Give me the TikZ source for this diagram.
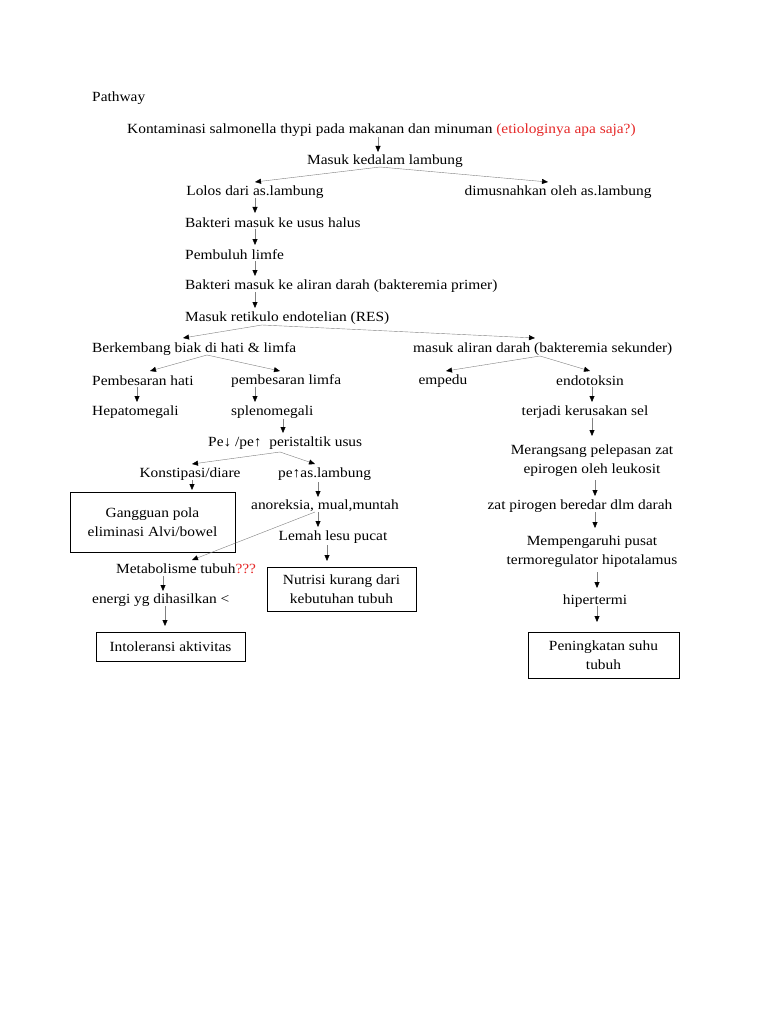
\documentclass[tikz,border=0pt]{standalone}
\usepackage{fontspec}
\setmainfont{Liberation Serif}[FakeStretch=1.1]
\usetikzlibrary{arrows.meta}
\definecolor{redq}{RGB}{230,40,40}
\begin{document}
\begin{tikzpicture}[x=1pt,y=-1pt,
  every node/.style={font=\fontsize{14}{19}\selectfont, inner sep=1pt, yshift=-2pt},
  l/.style={anchor=west},
  box/.style={draw, thick, align=center, minimum width=#1, inner sep=3pt},
  ar/.style={draw=gray, line width=0.4pt, -{Triangle[length=6pt,width=5pt,color=black]}}]
\useasboundingbox (0,0) rectangle (768,1024);
\fill[white] (0,0) rectangle (768,1024);
\node[l] (pw) at (91,96) {Pathway};
\node[l] (k) at (126,128) {Kontaminasi salmonella thypi pada makanan dan minuman \textcolor{redq}{(etiologinya apa saja?)}};
\node (ml) at (385,159) {Masuk kedalam lambung};
\node (lo) at (255,190) {Lolos dari as.lambung};
\node (di) at (558,190) {dimusnahkan oleh as.lambung};
\node[l] (bu) at (184,221) {Bakteri masuk ke usus halus};
\node[l] (pl) at (184,253) {Pembuluh limfe};
\node[l] (ba) at (184,284) {Bakteri masuk ke aliran darah (bakteremia primer)};
\node[l] (res) at (184,316) {Masuk retikulo endotelian (RES)};
\node[l] (bb) at (91,347) {Berkembang biak di hati \& limfa};
\node[l] (ma) at (412,347) {masuk aliran darah (bakteremia sekunder)};
\node[l] (ph) at (91,379) {Pembesaran hati};
\node[l] (pli) at (230,379) {pembesaran limfa};
\node[l] (he) at (91,410) {Hepatomegali};
\node[l] (sp) at (230,410) {splenomegali};
\node[l] (pe) at (207,441) {Pe↓ /pe↑\ \ peristaltik usus};
\node (em) at (443,379) {empedu};
\node (en) at (590,379) {endotoksin};
\node (tk) at (585,410) {terjadi kerusakan sel};
\node[align=center] (me) at (592,459) {Merangsang pelepasan zat\\epirogen oleh leukosit};
\node (zp) at (580,504) {zat pirogen beredar dlm darah};
\node[align=center] (mp) at (592,550) {Mempengaruhi pusat\\termoregulator hipotalamus};
\node (hi) at (595,599) {hipertermi};
\node[box=151pt, minimum height=46pt] (ps) at (603.5,653) {Peningkatan suhu\\tubuh};
\node (kd) at (190,472) {Konstipasi/diare};
\node[l] (pa) at (277,472) {pe↑as.lambung};
\node[box=165pt, minimum height=60pt] (gp) at (152.5,520) {Gangguan pola\\eliminasi Alvi/bowel};
\node[l] (an) at (250,504) {anoreksia, mual,muntah};
\node (le) at (333,535) {Lemah lesu pucat};
\node[l] (mt) at (115,567) {Metabolisme tubuh\textcolor{redq}{???}};
\node[box=149pt, minimum height=44pt] (nk) at (341.5,587) {Nutrisi kurang dari\\kebutuhan tubuh};
\node[l] (eg) at (91,598) {energi yg dihasilkan <};
\node[box=149pt, minimum height=29pt] (ia) at (170.5,644.5) {Intoleransi aktivitas};
% arrows
\draw[ar] (378,137) -- (378,152);
\draw[ar] (380,167) -- (255,182);
\draw[ar] (380,167) -- (548,182);
\draw[ar] (255,198) -- (255,213);
\draw[ar] (255,229) -- (255,245);
\draw[ar] (255,261) -- (255,276);
\draw[ar] (255,292) -- (255,308);
\draw[ar] (262,325) -- (183,338);
\draw[ar] (262,325) -- (535,338);
\draw[ar] (207,355) -- (150,371);
\draw[ar] (207,355) -- (280,371);
\draw[ar] (137,387) -- (137,402);
\draw[ar] (255,387) -- (255,402);
\draw[ar] (283,419) -- (283,433);
\draw[ar] (540,356) -- (446,371);
\draw[ar] (540,356) -- (590,371);
\draw[ar] (592,387) -- (592,402);
\draw[ar] (592,418) -- (592,436);
\draw[ar] (595,480) -- (595,496);
\draw[ar] (595,512) -- (595,528);
\draw[ar] (597,572) -- (597,588);
\draw[ar] (597,606) -- (597,622);
\draw[ar] (280,452) -- (192,464);
\draw[ar] (280,452) -- (315,464);
\draw[ar] (192,480) -- (192,490);
\draw[ar] (318,482) -- (318,497);
\draw[ar] (318,512) -- (318,527);
\draw[ar] (315,512) -- (192,560);
\draw[ar] (327,545) -- (327,561);
\draw[ar] (163,576) -- (163,591);
\draw[ar] (165,606) -- (165,626);
\end{tikzpicture}
\end{document}
